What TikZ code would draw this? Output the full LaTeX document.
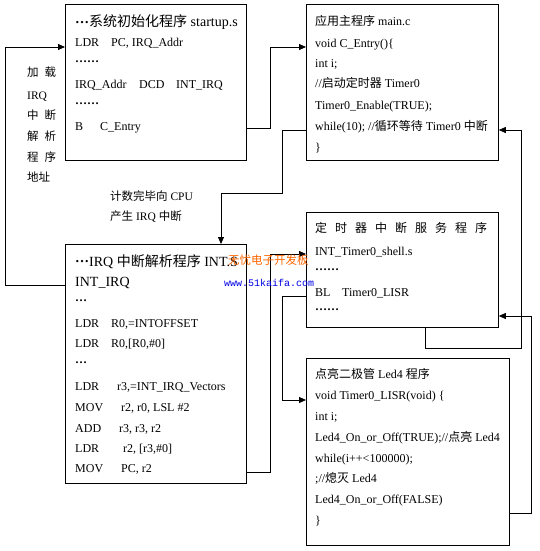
\documentclass[tikz,border=0pt]{standalone}
\usepackage{fontspec}
\setmainfont{Liberation Serif}
\newfontfamily\cjk{Noto Sans CJK SC}
\newfontfamily\wmmono{Liberation Mono}
\usetikzlibrary{arrows.meta,calc}
\definecolor{wmorange}{RGB}{255,102,0}
\definecolor{wmblue}{RGB}{0,0,230}
\newcommand\zh[1]{{\cjk #1}}
\newcommand\op[2]{\makebox[#1pt][l]{#2}}
\newcommand\dd{\raisebox{3.5pt}{\bfseries …}}
\newcommand\gp{\hspace{8pt}}
\begin{document}
\begin{tikzpicture}[x=1pt,y=-1pt,
  box/.style={draw,line width=0.8pt,inner sep=0,anchor=north west},
  ln/.style={anchor=base west,inner sep=0,font=\fontsize{12}{14}\selectfont},
  big/.style={anchor=base west,inner sep=0,font=\fontsize{14}{16}\selectfont},
  lbl/.style={anchor=base west,inner sep=0,font=\fontsize{11.5}{14}\selectfont},
  conn/.style={line width=0.8pt,-{Triangle[length=7pt,width=6pt]}}]
\useasboundingbox[fill=white] (0,0) rectangle (539,551);
% boxes
\node[box,minimum width=181pt,minimum height=156pt] (b1) at (65,4) {};
\node[box,minimum width=192pt,minimum height=156pt] (b2) at (306,4) {};
\node[box,minimum width=181pt,minimum height=239pt] (b3) at (65,244) {};
\node[box,minimum width=192pt,minimum height=115pt] (b4) at (306,212) {};
\node[box,minimum width=203pt,minimum height=187pt] (b5) at (306,358) {};
% connectors
\draw[conn] ($(b3.north west)+(0,41)$) -| (5,47) -- ($(b1.north west)+(0,43)$);
\draw[conn] ($(b1.north east)+(0,124)$) -| (270,47) -- ($(b2.north west)+(0,43)$);
\draw[conn] ($(b2.north west)+(0,126)$) -| (282,193) -| ($(b3.north west)+(156,0)$);
\draw[conn] ($(b3.north east)+(0,228)$) -| (270,254) -- ($(b4.north west)+(0,42)$);
\draw[conn] ($(b4.north west)+(0,84)$) -| (282,400) -- ($(b5.north west)+(0,42)$);
\draw[conn] ($(b4.south west)+(119,0)$) |- (521,348) |- ($(b2.north east)+(0,126)$);
\draw[conn] ($(b5.north east)+(0,155)$) -| (531,316) -- ($(b4.north east)+(0,104)$);
% box 1
\node[big] (t11) at (75,27) {\dd\zh{系统初始化程序} startup.s};
\node[ln] (t12) at (75,47) {\op{36}{LDR}PC, IRQ\_Addr};
\node[ln] (t13) at (75,66) {\dd\dd};
\node[ln] (t14) at (75,88) {\op{64}{IRQ\_Addr}\op{37}{DCD}INT\_IRQ};
\node[ln] (t15) at (75,108) {\dd\dd};
\node[ln] (t16) at (75,130) {\op{25}{B}C\_Entry};
% box 2
\node[ln] (t21) at (315,26) {\zh{应用主程序} main.c};
\node[ln] (t22) at (315,48) {void C\_Entry()\{};
\node[ln] (t23) at (315,67) {int i;};
\node[ln] (t24) at (315,87) {//\zh{启动定时器} Timer0};
\node[ln] (t25) at (315,109) {Timer0\_Enable(TRUE);};
\node[ln] (t26) at (315,130) {while(10); //\zh{循环等待} Timer0 \zh{中断}};
\node[ln] (t27) at (315,151) {\}};
% box 3
\node[big] (t31) at (75,266) {\dd IRQ \zh{中断解析程序} INT.S};
\node[big] (t32) at (75,286) {INT\_IRQ};
\node[ln] (t33) at (75,305) {\dd};
\node[ln] (t34) at (75,327) {\op{36}{LDR}R0,=INTOFFSET};
\node[ln] (t35) at (75,347) {\op{36}{LDR}R0,[R0,\#0]};
\node[ln] (t36) at (75,367) {\dd};
\node[ln] (t37) at (75,390) {\op{42}{LDR}r3,=INT\_IRQ\_Vectors};
\node[ln] (t38) at (75,411) {\op{46}{MOV}r2, r0, LSL \#2};
\node[ln] (t39) at (75,432) {\op{44}{ADD}r3, r3, r2};
\node[ln] (t310) at (75,452) {\op{48}{LDR}r2, [r3,\#0]};
\node[ln] (t311) at (75,472) {\op{46}{MOV}PC, r2};
% box 4
\node[ln] (t41) at (315,232) {\zh{定\gp 时\gp 器\gp 中\gp 断\gp 服\gp 务\gp 程\gp 序}};
\node[ln] (t42) at (315,255) {INT\_Timer0\_shell.s};
\node[ln] (t43) at (315,274) {\dd\dd};
\node[ln] (t44) at (315,296) {\op{27}{BL}Timer0\_LISR};
\node[ln] (t45) at (315,314) {\dd\dd};
% box 5
\node[ln] (t51) at (315,378) {\zh{点亮二极管} Led4 \zh{程序}};
\node[ln] (t52) at (315,399) {void Timer0\_LISR(void) \{};
\node[ln] (t53) at (315,420) {int i;};
\node[ln] (t54) at (315,441) {Led4\_On\_or\_Off(TRUE);//\zh{点亮} Led4};
\node[ln] (t55) at (315,462) {while(i++<100000);};
\node[ln] (t56) at (315,482) {;//\zh{熄灭} Led4};
\node[ln] (t57) at (315,503) {Led4\_On\_or\_Off(FALSE)};
\node[ln] (t58) at (315,524) {\}};
% left label
\node[lbl] (l1) at (27,76) {\zh{加\hspace{6pt}载}};
\node[lbl] (l2) at (27,99) {IRQ};
\node[lbl] (l3) at (27,119) {\zh{中\hspace{6pt}断}};
\node[lbl] (l4) at (27,140) {\zh{解\hspace{6pt}析}};
\node[lbl] (l5) at (27,161) {\zh{程\hspace{6pt}序}};
\node[lbl] (l6) at (27,181) {\zh{地址}};
% middle label
\node[lbl] (m1) at (110,200) {\zh{计数完毕向} CPU};
\node[lbl] (m2) at (110,220) {\zh{产生} IRQ \zh{中断}};
% watermark
\node[anchor=base west,inner sep=0,font=\cjk\fontsize{11.5}{13}\selectfont,text=wmorange] (w1) at (228,264.5) {无忧电子开发板};
\node[anchor=base west,inner sep=0,font=\wmmono\fontsize{10}{12}\selectfont,text=wmblue] (w2) at (224,286) {www.51kaifa.com};
\end{tikzpicture}
\end{document}
